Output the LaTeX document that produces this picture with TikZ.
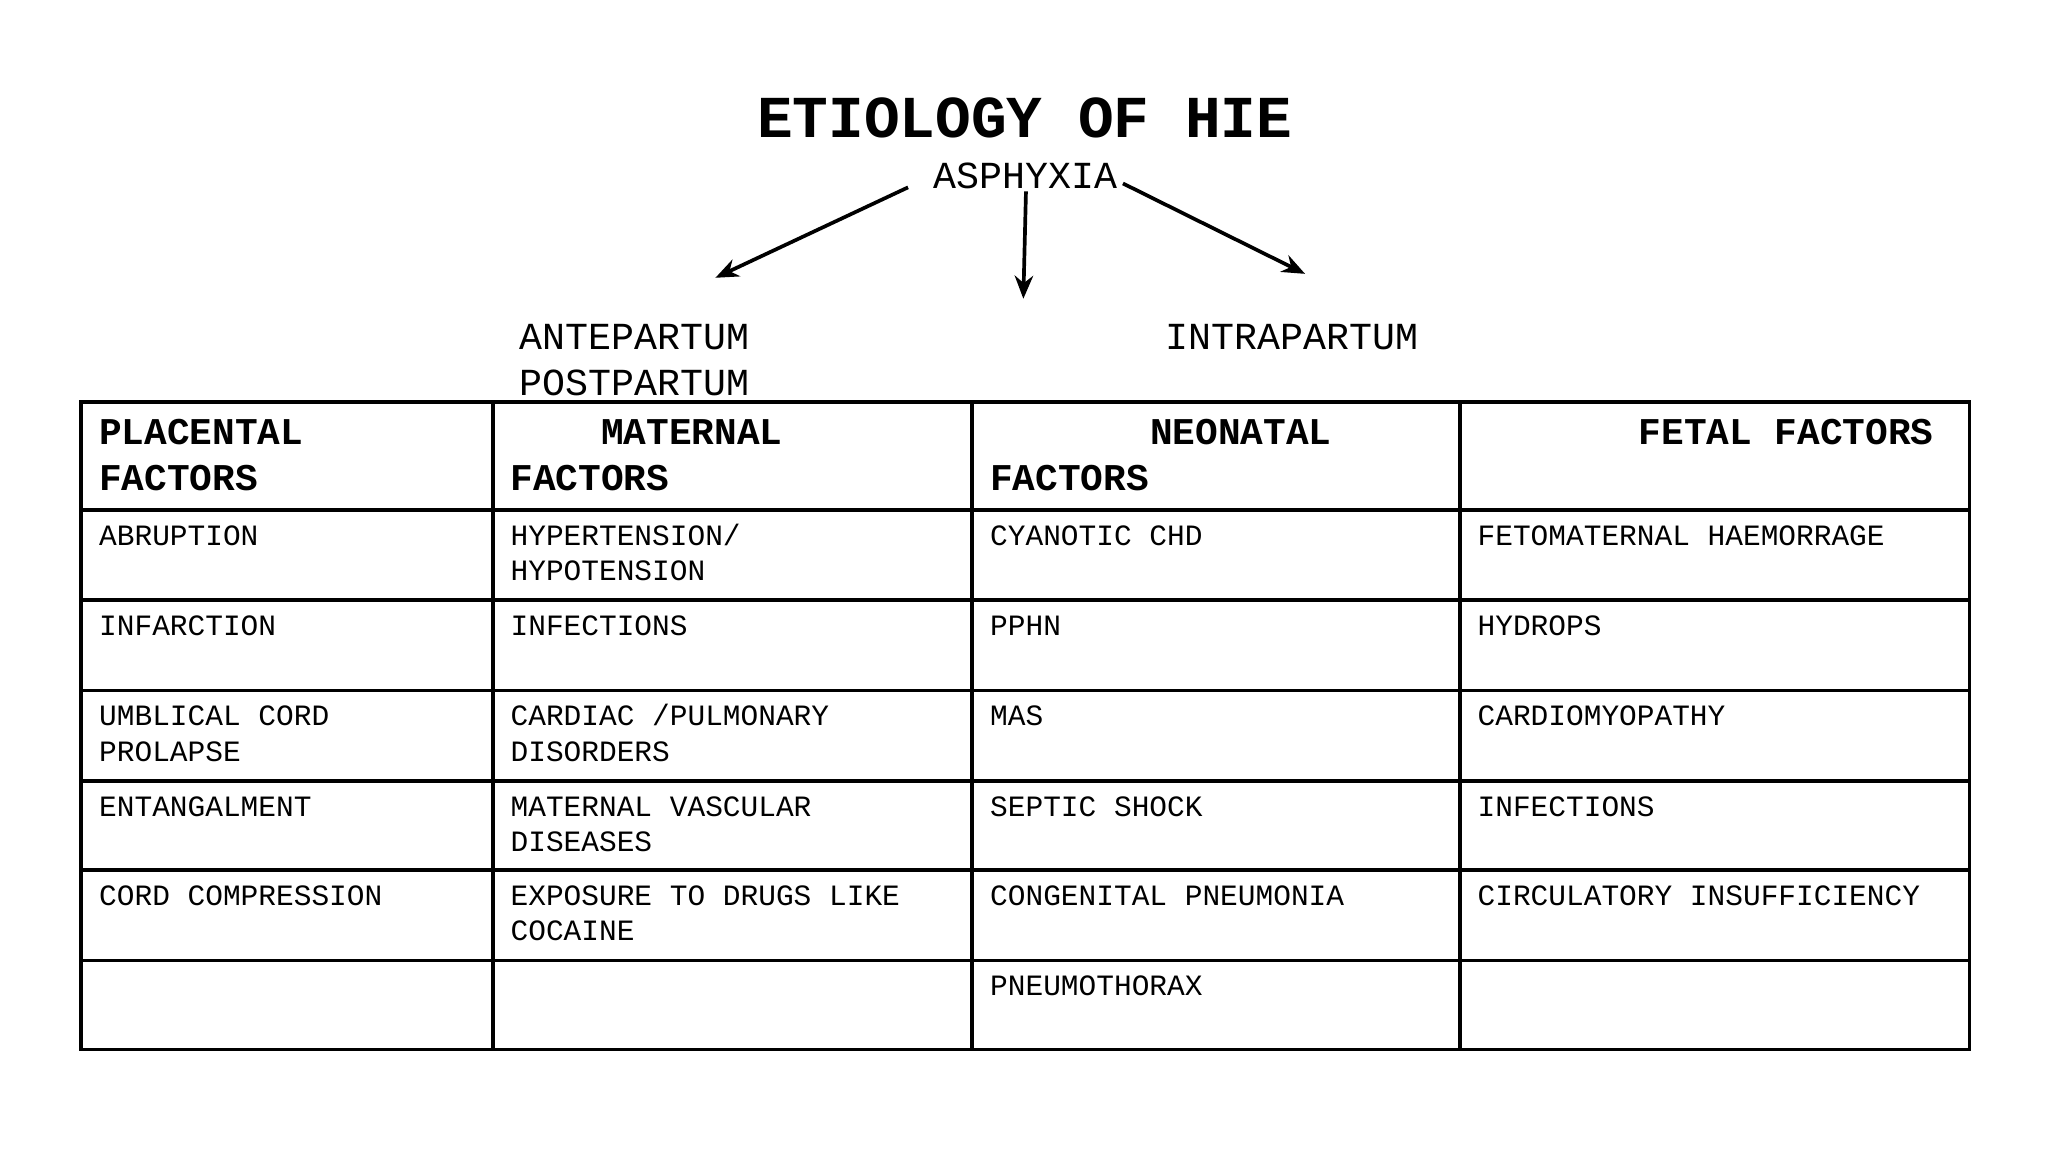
\documentclass[tikz,border=0pt]{standalone}
\usepackage{fontspec}
\setmainfont{Liberation Mono}
\usetikzlibrary{arrows.meta}
\begin{document}
\begin{tikzpicture}[x=0.01cm,y=-0.01cm,
 txt/.style={anchor=base west,inner sep=0,font=\fontsize{6.4}{7.7}\selectfont},
 hd/.style={anchor=base west,inner sep=0,font=\fontsize{8.2}{10}\selectfont\bfseries},
 lbl/.style={anchor=base west,inner sep=0,font=\fontsize{8.3}{10}\selectfont},
 arr/.style={-{Stealth[length=5pt,width=4pt]},line width=0.8pt},
 grid/.style={line width=0.8pt}]
\useasboundingbox (0,0) rectangle (1563,879);
\node[anchor=base,inner sep=0,font=\fontsize{12.9}{15}\selectfont\bfseries] (title) at (782,105) {ETIOLOGY OF HIE};
\node[lbl] (asph) at (712,144) {ASPHYXIA};
\node[lbl] (ante) at (396,267) {ANTEPARTUM};
\node[lbl] (post) at (396,302) {POSTPARTUM};
\node[lbl] (intra) at (889,267) {INTRAPARTUM};
\coordinate (s1) at (693,143); \coordinate (e1) at (546,212);
\coordinate (s2) at (783,146); \coordinate (e2) at (781,228);
\coordinate (s3) at (857,140); \coordinate (e3) at (996,209);
\draw[arr] (s1) -- (e1);
\draw[arr] (s2) -- (e2);
\draw[arr] (s3) -- (e3);
% grid
\draw[grid] (62,307) rectangle (1503,801);
\foreach \x in {376,742,1114} \draw[grid] (\x,307) -- (\x,801);
\foreach \y in {389,458,527,596,664,733} \draw[grid] (62,\y) -- (1503,\y);
% headers
\node[hd] (h1a) at (75,339) {PLACENTAL};
\node[hd] (h1b) at (75,374) {FACTORS};
\node[hd] (h2a) at (458,339) {MATERNAL};
\node[hd] (h2b) at (389,374) {FACTORS};
\node[hd] (h3a) at (877,339) {NEONATAL};
\node[hd] (h3b) at (755,374) {FACTORS};
\node[hd] (h4a) at (1250,339) {FETAL FACTORS};
% column 1
\node[txt] (a1) at (75,416) {ABRUPTION};
\node[txt] (a2) at (75,485) {INFARCTION};
\node[txt] (a3) at (75,554) {UMBLICAL CORD};
\node[txt] (a3b) at (75,581) {PROLAPSE};
\node[txt] (a4) at (75,623) {ENTANGALMENT};
\node[txt] (a5) at (75,691) {CORD COMPRESSION};
% column 2
\node[txt] (b1) at (389,416) {HYPERTENSION/};
\node[txt] (b1b) at (389,443) {HYPOTENSION};
\node[txt] (b2) at (389,485) {INFECTIONS};
\node[txt] (b3) at (389,554) {CARDIAC /PULMONARY};
\node[txt] (b3b) at (389,581) {DISORDERS};
\node[txt] (b4) at (389,623) {MATERNAL VASCULAR};
\node[txt] (b4b) at (389,650) {DISEASES};
\node[txt] (b5) at (389,691) {EXPOSURE TO DRUGS LIKE};
\node[txt] (b5b) at (389,718) {COCAINE};
% column 3
\node[txt] (c1) at (755,416) {CYANOTIC CHD};
\node[txt] (c2) at (755,485) {PPHN};
\node[txt] (c3) at (755,554) {MAS};
\node[txt] (c4) at (755,623) {SEPTIC SHOCK};
\node[txt] (c5) at (755,691) {CONGENITAL PNEUMONIA};
\node[txt] (c6) at (755,760) {PNEUMOTHORAX};
% column 4
\node[txt] (d1) at (1127,416) {FETOMATERNAL HAEMORRAGE};
\node[txt] (d2) at (1127,485) {HYDROPS};
\node[txt] (d3) at (1127,554) {CARDIOMYOPATHY};
\node[txt] (d4) at (1127,623) {INFECTIONS};
\node[txt] (d5) at (1127,691) {CIRCULATORY INSUFFICIENCY};
\end{tikzpicture}
\end{document}
